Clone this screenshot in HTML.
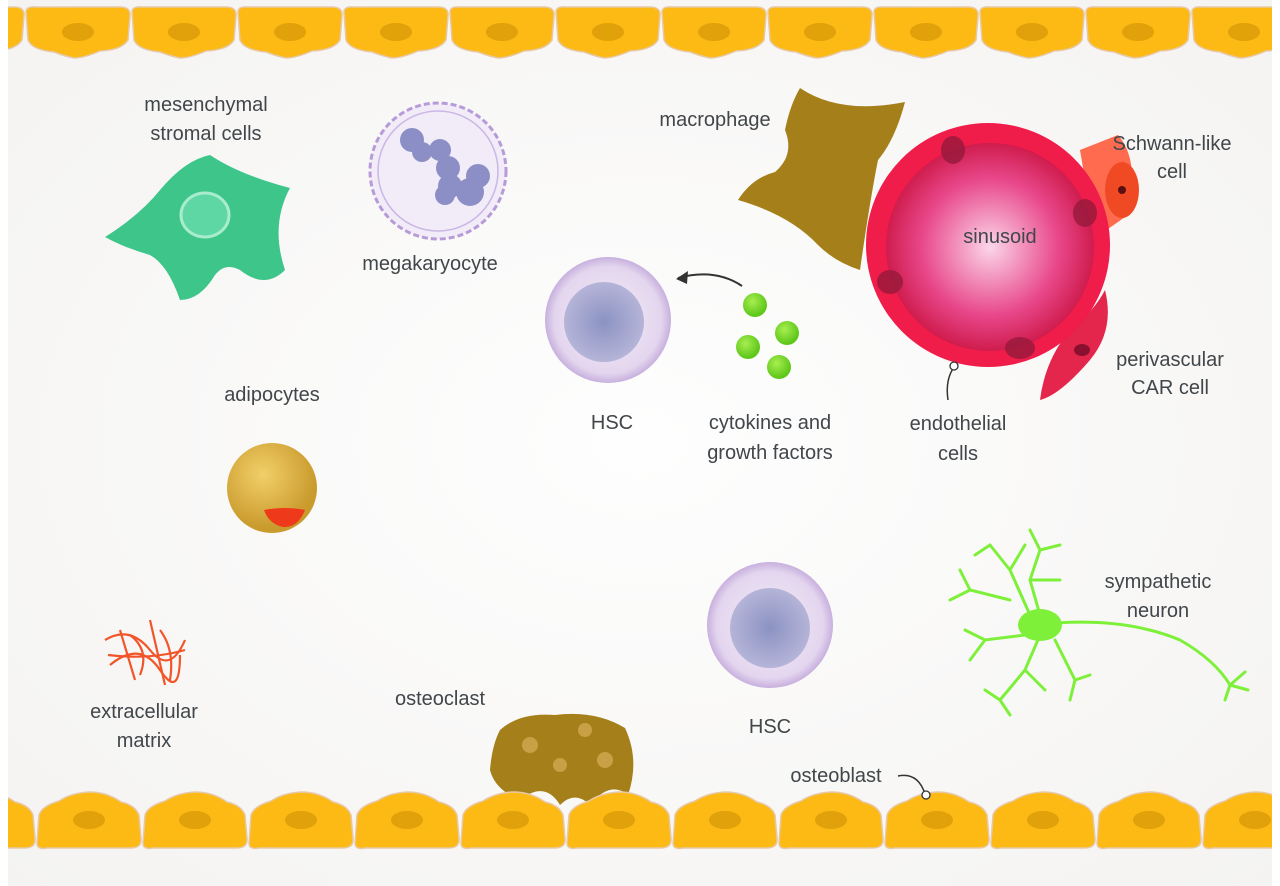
<!DOCTYPE html>
<html><head><meta charset="utf-8"><style>
html,body{margin:0;padding:0;background:#fff}
svg{display:block}
text{font-family:"Liberation Sans",sans-serif;font-size:20px;fill:#41464a}
</style></head><body>
<svg width="1280" height="886" viewBox="0 0 1280 886" xmlns="http://www.w3.org/2000/svg">
<defs>
<radialGradient id="bg" cx="50%" cy="50%" r="70%"><stop offset="0" stop-color="#fefefe"/><stop offset="1" stop-color="#f4f3f1"/></radialGradient>
<radialGradient id="sin" cx="50%" cy="50%" r="55%"><stop offset="0" stop-color="#fbd6ea"/><stop offset="0.6" stop-color="#e8478a"/><stop offset="1" stop-color="#c8103c"/></radialGradient>
<radialGradient id="hsc" cx="50%" cy="50%" r="50%"><stop offset="0" stop-color="#f4eef8"/><stop offset="0.85" stop-color="#e3d5ee"/><stop offset="1" stop-color="#c8b0de"/></radialGradient>
<radialGradient id="nuc" cx="50%" cy="50%" r="50%"><stop offset="0" stop-color="#8b93c2"/><stop offset="1" stop-color="#b5b4d8"/></radialGradient>
<radialGradient id="adi" cx="40%" cy="35%" r="60%"><stop offset="0" stop-color="#f2cf6a"/><stop offset="1" stop-color="#c99a2c"/></radialGradient>
<radialGradient id="gr" cx="40%" cy="35%" r="60%"><stop offset="0" stop-color="#a8ee50"/><stop offset="1" stop-color="#5ec71a"/></radialGradient>
<g id="tc"><path d="M-52,12 Q-52,6 -42,7 L42,7 Q53,7 52,16 L50,40 Q44,50 22,51 Q6,58 -4,58 Q-14,56 -24,52 Q-46,50 -50,40 Z" fill="#fdb914" stroke="#e6c9a8" stroke-width="1.5"/><ellipse cx="0" cy="32" rx="16" ry="9" fill="#e0a10a"/></g>
<g id="bc"><path d="M-52,843 Q-52,850 -42,848 L42,848 Q53,848 52,838 L50,815 Q46,805 32,802 Q18,792 0,792 Q-18,793 -30,801 Q-47,806 -50,815 Z" fill="#fdb914" stroke="#e6c9a8" stroke-width="1.5"/><ellipse cx="0" cy="820" rx="16" ry="9" fill="#e0a10a"/></g>
</defs>
<rect width="1280" height="886" fill="url(#bg)"/>
<g>
<use href="#tc" x="-28"/><use href="#tc" x="78"/><use href="#tc" x="184"/><use href="#tc" x="290"/><use href="#tc" x="396"/><use href="#tc" x="502"/><use href="#tc" x="608"/><use href="#tc" x="714"/><use href="#tc" x="820"/><use href="#tc" x="926"/><use href="#tc" x="1032"/><use href="#tc" x="1138"/><use href="#tc" x="1244"/>
</g>
<!-- osteoclast (behind bottom row) -->
<path d="M500,730 Q520,712 555,715 Q595,710 625,728 Q640,760 628,795 Q610,780 590,805 Q575,790 560,805 Q545,780 520,800 Q495,790 490,770 Q492,745 500,730 Z" fill="#a5801a"/>
<g fill="#c9a045"><circle cx="530" cy="745" r="8"/><circle cx="585" cy="730" r="7"/><circle cx="605" cy="760" r="8"/><circle cx="560" cy="765" r="7"/></g>
<g>
<use href="#bc" x="-17"/><use href="#bc" x="89"/><use href="#bc" x="195"/><use href="#bc" x="301"/><use href="#bc" x="407"/><use href="#bc" x="513"/><use href="#bc" x="619"/><use href="#bc" x="725"/><use href="#bc" x="831"/><use href="#bc" x="937"/><use href="#bc" x="1043"/><use href="#bc" x="1149"/><use href="#bc" x="1255"/>
</g>
<rect x="0" y="0" width="8" height="886" fill="#fff"/><rect x="1272" y="0" width="8" height="886" fill="#fff"/>
<!-- mesenchymal -->
<path d="M105,237 Q140,215 160,190 Q185,160 210,155 Q240,175 290,188 Q270,225 285,270 Q265,290 240,270 Q225,262 215,275 Q200,300 180,300 Q168,265 150,255 Q125,248 105,237 Z" fill="#3ec58a"/>
<ellipse cx="205" cy="215" rx="24" ry="22" fill="#5fd7a5" stroke="#a8eccd" stroke-width="3"/>
<text x="206" y="111" text-anchor="middle">mesenchymal</text><text x="206" y="140" text-anchor="middle">stromal cells</text>
<!-- megakaryocyte -->
<circle cx="438" cy="171" r="68" fill="#f1ecf7" stroke="#b79bd8" stroke-width="3" stroke-dasharray="6 3"/>
<circle cx="438" cy="171" r="60" fill="none" stroke="#cbb7e6" stroke-width="1.5"/>
<g fill="#8b8fc6"><circle cx="412" cy="140" r="12"/><circle cx="422" cy="152" r="10"/><circle cx="440" cy="150" r="11"/><circle cx="448" cy="168" r="12"/><circle cx="450" cy="186" r="12"/><circle cx="470" cy="192" r="14"/><circle cx="478" cy="176" r="12"/><circle cx="445" cy="195" r="10"/></g>
<text x="430" y="270" text-anchor="middle">megakaryocyte</text>
<!-- macrophage -->
<path d="M800,88 Q840,115 905,102 Q895,140 878,160 Q870,200 860,270 Q835,262 818,245 Q790,215 738,200 Q752,178 775,172 Q795,155 785,130 Q790,105 800,88 Z" fill="#a5801a"/>
<text x="715" y="126" text-anchor="middle">macrophage</text>
<!-- schwann -->
<path d="M1080,150 L1118,135 Q1140,160 1128,215 L1095,238 Z" fill="#ff6b4f"/>
<ellipse cx="1122" cy="190" rx="17" ry="28" fill="#f04a25"/><circle cx="1122" cy="190" r="4" fill="#5a1010"/>
<text x="1172" y="150" text-anchor="middle">Schwann-like</text><text x="1172" y="178" text-anchor="middle">cell</text>
<!-- perivascular -->
<path d="M1105,290 Q1115,330 1090,360 Q1060,395 1040,400 Q1045,360 1070,330 Q1095,310 1105,290 Z" fill="#e5264c"/>
<ellipse cx="1082" cy="350" rx="8" ry="6" fill="#8a1030"/>
<text x="1170" y="366" text-anchor="middle">perivascular</text><text x="1170" y="394" text-anchor="middle">CAR cell</text>
<!-- sinusoid -->
<circle cx="988" cy="245" r="122" fill="#f01c4a"/>
<circle cx="990" cy="247" r="104" fill="url(#sin)"/>
<g fill="#9a1a3c" opacity="0.85"><ellipse cx="953" cy="150" rx="12" ry="14"/><ellipse cx="1085" cy="213" rx="12" ry="14"/><ellipse cx="890" cy="282" rx="13" ry="12"/><ellipse cx="1020" cy="348" rx="15" ry="11"/></g>
<text x="1000" y="243" text-anchor="middle">sinusoid</text>
<path d="M954,367 Q945,380 948,400" fill="none" stroke="#333" stroke-width="1.5"/><circle cx="954" cy="366" r="4" fill="#fff" stroke="#333" stroke-width="1.3"/>
<text x="958" y="430" text-anchor="middle">endothelial</text><text x="958" y="460" text-anchor="middle">cells</text>
<!-- HSC top -->
<circle cx="608" cy="320" r="63" fill="url(#hsc)"/>
<circle cx="604" cy="322" r="40" fill="url(#nuc)"/>
<text x="612" y="429" text-anchor="middle">HSC</text>
<path d="M742,286 Q715,268 678,278" fill="none" stroke="#333" stroke-width="2"/>
<path d="M676,279 L688,271 L687,284 Z" fill="#333"/>
<g fill="url(#gr)"><circle cx="755" cy="305" r="12"/><circle cx="787" cy="333" r="12"/><circle cx="748" cy="347" r="12"/><circle cx="779" cy="367" r="12"/></g>
<text x="770" y="429" text-anchor="middle">cytokines and</text><text x="770" y="459" text-anchor="middle">growth factors</text>
<!-- adipocyte -->
<circle cx="272" cy="488" r="45" fill="url(#adi)"/>
<path d="M264,510 Q285,506 305,510 Q298,528 283,527 Q269,524 264,510 Z" fill="#ee3a1a"/>
<text x="272" y="401" text-anchor="middle">adipocytes</text>
<!-- ECM -->
<g fill="none" stroke="#f2552a" stroke-width="2.2">
<path d="M105,640 Q130,625 150,650 T185,640"/><path d="M110,665 Q140,640 160,670 T180,655"/><path d="M120,630 L135,680"/><path d="M150,620 L165,685"/><path d="M108,655 Q150,660 185,650"/><path d="M130,635 Q150,650 140,675"/><path d="M160,630 Q175,650 170,680"/>
</g>
<text x="144" y="718" text-anchor="middle">extracellular</text><text x="144" y="747" text-anchor="middle">matrix</text>
<text x="440" y="705" text-anchor="middle">osteoclast</text>
<!-- HSC bottom -->
<circle cx="770" cy="625" r="63" fill="url(#hsc)"/>
<circle cx="770" cy="628" r="40" fill="url(#nuc)"/>
<text x="770" y="733" text-anchor="middle">HSC</text>
<text x="836" y="782" text-anchor="middle">osteoblast</text>
<path d="M898,776 Q918,772 925,794" fill="none" stroke="#333" stroke-width="1.5"/><circle cx="926" cy="795" r="4" fill="#fff" stroke="#333" stroke-width="1.3"/>
<!-- neuron -->
<g fill="none" stroke="#7ff03a" stroke-width="3" stroke-linecap="round">
<path d="M1035,625 Q1120,615 1180,640 Q1215,660 1230,685"/>
<path d="M1030,615 L1010,570 L990,545 M1010,570 L1025,545 M990,545 L975,555 M1010,600 L970,590 L960,570 M970,590 L950,600"/>
<path d="M1040,615 L1030,580 L1040,550 L1030,530 M1040,550 L1060,545 M1030,580 L1060,580"/>
<path d="M1025,635 L985,640 L965,630 M985,640 L970,660"/>
<path d="M1040,635 L1025,670 L1000,700 L985,690 M1000,700 L1010,715 M1025,670 L1045,690"/>
<path d="M1055,640 L1075,680 L1090,675 M1075,680 L1070,700"/>
<path d="M1230,685 L1245,672 M1230,685 L1248,690 M1230,685 L1225,700"/>
</g>
<ellipse cx="1040" cy="625" rx="22" ry="16" fill="#7ff03a"/>
<text x="1158" y="588" text-anchor="middle">sympathetic</text><text x="1158" y="617" text-anchor="middle">neuron</text>
</svg>
</body></html>
